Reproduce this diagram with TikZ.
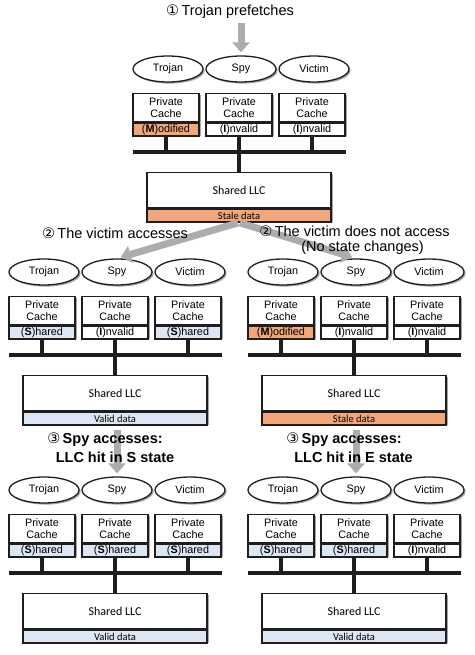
\documentclass[tikz,border=0pt]{standalone}
\usepackage{fontspec}
\setmainfont{Liberation Sans}
\newfontfamily\calib{Carlito}
\newfontfamily\dejavu{DejaVu Sans}
\usetikzlibrary{shapes.geometric,shadows,arrows.meta}
\definecolor{orangeC}{RGB}{242,166,122}
\definecolor{blueC}{RGB}{221,231,243}
\definecolor{arrowC}{RGB}{172,172,172}
\definecolor{lineC}{RGB}{30,30,30}
\newcommand\sttextM{(\textbf{M})odified}
\newcommand\sttextI{(\textbf{I})nvalid}
\newcommand\sttextS{(\textbf{S})hared}
\newcommand\llctextV{Valid data}
\newcommand\llctextX{Stale data}
\tikzset{
 shad/.style={drop shadow={shadow xshift=1.6pt,shadow yshift=-1.6pt,opacity=0.35,fill=black}},
 proc/.style={ellipse, draw=lineC, line width=1.3pt, fill=white, minimum width=70pt, minimum height=26pt, inner sep=0pt, font=\fontsize{10.8}{12}\selectfont, shad},
 cachetop/.style={rectangle, draw=lineC, line width=1.3pt, fill=white, minimum width=66pt, minimum height=28pt, inner sep=0pt, align=center, font=\fontsize{10.8}{12.5}\selectfont, anchor=north},
 statebox/.style={rectangle, draw=lineC, line width=1.3pt, minimum width=66pt, minimum height=13pt, inner sep=0pt, font=\fontsize{10.8}{12}\selectfont, anchor=north},
 stM/.style={fill=orangeC}, stI/.style={fill=white}, stS/.style={fill=blueC},
 llcbox/.style={rectangle, draw=lineC, line width=1.3pt, fill=white, minimum width=184pt, minimum height=35pt, inner sep=0pt, font=\calib\fontsize{12}{14}\selectfont, anchor=north},
 llcstate/.style={rectangle, draw=lineC, line width=1.3pt, minimum width=184pt, minimum height=13pt, inner sep=0pt, font=\calib\fontsize{10.5}{12}\selectfont, anchor=north},
 llcV/.style={fill=blueC}, llcX/.style={fill=orangeC},
 bus/.style={draw=lineC, line width=4.5pt},
 stub/.style={draw=lineC, line width=4pt},
 garrow/.style={draw=arrowC, line width=7pt, -{Triangle[width=17pt,length=10pt]}},
 ttl/.style={font=\fontsize{14.5}{17}\selectfont, inner sep=0pt},
 ttlb/.style={font=\bfseries\fontsize{14.5}{17}\selectfont, inner sep=0pt},
}
\newcommand\cbox[4]{%
 \node[proc] (#1p) at (#2+2,272) {#4};
 \path[fill=white,shad] (#2-33,296) rectangle (#2+33,337);
 \node[cachetop] (#1c) at (#2,296) {Private\\[-1pt]Cache};
 \node[statebox, st#3] (#1s) at (#1c.south) {\csname sttext#3\endcsname};
}
\newcommand\mypanel[7]{%
 \begin{scope}[shift={(#2,#3)}]
  \cbox{#1t}{42}{#4}{Trojan}
  \cbox{#1s}{115}{#5}{Spy}
  \cbox{#1v}{188}{#6}{Victim}
  \coordinate (#1bl) at (9,355);
  \coordinate (#1br) at (222,355);
  \coordinate (#1bc) at (115,355);
  \draw[stub] (#1ts.south) -- (#1ts.south |- #1bl);
  \draw[stub] (#1ss.south) -- (#1ss.south |- #1bl);
  \draw[stub] (#1vs.south) -- (#1vs.south |- #1bl);
  \draw[bus] (#1bl) -- (#1br);
  \path[fill=white,shad] (23,375) rectangle (207,423);
  \draw[stub] (#1bc) -- (115,375);
  \node[llcbox] (#1llc) at (115,375) {Shared LLC};
  \node[llcstate, llc#7] (#1llcs) at (#1llc.south) {\csname llctext#7\endcsname};
 \end{scope}}
\begin{document}
\begin{tikzpicture}[x=1pt,y=-1pt]
\useasboundingbox[fill=white] (0,0) rectangle (474,655);
% panels
\mypanel{T}{124}{-203}{M}{I}{I}{X}
\mypanel{L}{0}{0}{S}{I}{S}{V}
\mypanel{R}{239}{0}{M}{I}{I}{X}
\mypanel{D}{0}{218}{S}{S}{S}{V}
\mypanel{E}{239}{218}{S}{S}{I}{V}
% titles
\node[ttl] (t1) at (230,12) {{\dejavu ①}\,Trojan prefetches};
% arrows
\draw[garrow, shorten <=4pt, shorten >=3pt] (Tsp.north |- t1.south) -- (Tsp.north);
\draw[garrow, shorten <=1pt, shorten >=4pt] (Tllcs.south) -- (Lsp.north);
\draw[garrow, shorten <=1pt, shorten >=4pt] (Tllcs.south) -- (Rsp.north);
\draw[garrow, shorten >=3pt] ([yshift=46pt]Dsp.north) -- (Dsp.north);
\draw[garrow, shorten >=3pt] ([yshift=46pt]Esp.north) -- (Esp.north);
% titles over arrows
\node[ttl] (t2l) at (115,233) {{\dejavu ②}\,The victim accesses};
\node[ttl] (t2r) at (354.5,231.5) {{\dejavu ②}\,The victim does not access};
\node[ttl] (t2r2) at (362.5,248) {(No state changes)};
\node[ttlb] (t3l) at (105,440) {{\mdseries\dejavu ③}\,Spy accesses:};
\node[ttlb] (t3l2) at (115,457) {LLC hit in S state};
\node[ttlb] (t3r) at (344,440) {{\mdseries\dejavu ③}\,Spy accesses:};
\node[ttlb] (t3r2) at (353.5,457) {LLC hit in E state};
\end{tikzpicture}
\end{document}
